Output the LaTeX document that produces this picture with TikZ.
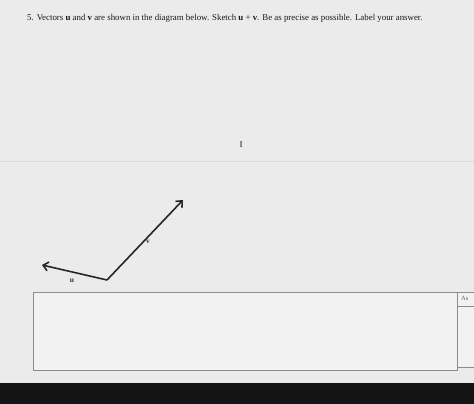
\documentclass[tikz,border=0pt]{standalone}
\usepackage{fontspec}
\setmainfont{Liberation Serif}
\usetikzlibrary{arrows.meta}
\begin{document}
\begin{tikzpicture}[x=1pt,y=-1pt,
  vec/.style={line width=1.6pt,draw=black!85,-{Straight Barb[length=5pt,width=9pt,line width=1.6pt]}},
  lbl/.style={font=\fontsize{7.5}{8}\selectfont\bfseries,text=black!80,inner sep=0pt},
  frame/.style={draw=black!45,line width=0.7pt}]
\useasboundingbox (0,0) rectangle (474,404);
\fill[black!8] (0,0) rectangle (474,404);
\draw[black!14,line width=0.6pt] (0,161) -- (474,161);
\node[anchor=west,inner sep=0pt,font=\fontsize{8.85}{10}\selectfont,text=black!90] (q) at (27,18)
  {5. Vectors \textbf{u} and \textbf{v} are shown in the diagram below. Sketch \textbf{u} + \textbf{v}. Be as precise as possible. Label your answer.};
\node[font=\fontsize{9}{9}\selectfont\bfseries,text=black!60,inner sep=0pt] (cur) at (241,145) {I};
\coordinate (o) at (107,280);
\coordinate (ue) at (42,265);
\coordinate (ve) at (183,200);
\draw[vec] (o) -- (ue);
\draw[vec] (o) -- (ve);
\node[lbl] (ul) at (72,281) {u};
\node[lbl] (vl) at (148,242) {v};
\draw[frame,fill=black!5] (33,292) rectangle (457,370);
\draw[frame,fill=black!5] (457,292) rectangle (476,367);
\draw[frame] (457,306) -- (476,306);
\node[anchor=west,inner sep=0pt,font=\fontsize{6.5}{7}\selectfont,text=black!60] (as) at (461,298) {As};
\fill[black!92] (0,383) rectangle (474,404);
\end{tikzpicture}
\end{document}
